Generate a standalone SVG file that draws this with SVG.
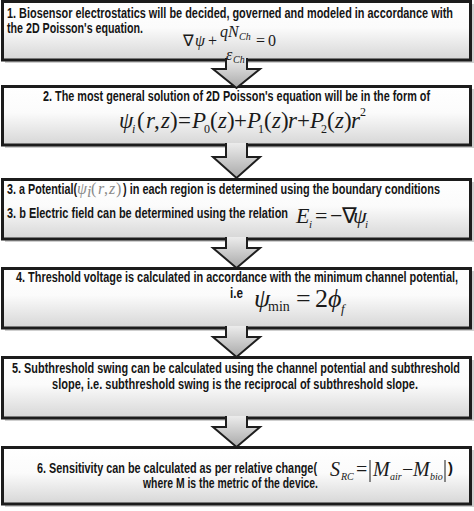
<svg xmlns="http://www.w3.org/2000/svg" width="474" height="511" viewBox="0 0 474 511">
<defs>
<linearGradient id="boxg" x1="0" y1="0" x2="0" y2="1">
<stop offset="0" stop-color="#ffffff"/>
<stop offset="0.45" stop-color="#fbfbfb"/>
<stop offset="1" stop-color="#d6d6d6"/>
</linearGradient>
<linearGradient id="arrg" x1="0" y1="0" x2="0" y2="1">
<stop offset="0" stop-color="#ececec"/>
<stop offset="1" stop-color="#a9a9a9"/>
</linearGradient>
<style>
.box{fill:url(#boxg);stroke:#1c1c1c;stroke-width:3}
.shadow{fill:#cfcfcf}
.arr{fill:url(#arrg);stroke:#1e1e1e;stroke-width:2;stroke-linejoin:miter}
.t{font-family:"Liberation Sans Narrow","Liberation Sans",Arial,sans-serif;font-weight:bold;font-size:15px;fill:#151515}
.m{font-family:"Liberation Serif","Times New Roman",serif;font-style:italic;fill:#1a1a1a}
.u{font-family:"Liberation Serif","Times New Roman",serif;font-style:normal;fill:#1a1a1a}
.g{font-family:"Liberation Serif","Times New Roman",serif;fill:#8a8a8a;font-size:16px}
</style>
</defs>
<rect width="474" height="511" fill="#ffffff"/>

<g id="node1">
<rect class="shadow" x="5" y="4" width="469" height="59"/>
<rect class="box" x="2.5" y="1.5" width="468" height="58.5"/>
<text class="t" x="7" y="18" textLength="446" lengthAdjust="spacingAndGlyphs">1. Biosensor electrostatics will be decided, governed and modeled in accordance with</text>
<text class="t" x="7" y="33" textLength="136" lengthAdjust="spacingAndGlyphs">the 2D Poisson's equation.</text>
<text class="u" x="183" y="46" font-size="16">∇</text>
<text class="m" x="195" y="46" font-size="16">ψ</text>
<text class="u" x="208" y="46" font-size="16">+</text>
<text class="m" x="220" y="37" font-size="16">qN</text>
<text class="m" x="239" y="40" font-size="10">Ch</text>
<text class="u" x="256" y="46" font-size="16">=</text>
<text class="u" x="268" y="46" font-size="16">0</text>
</g>

<g id="node2">
<rect class="shadow" x="5" y="89" width="469" height="59"/>
<rect class="box" x="2.5" y="86.5" width="468" height="58.5"/>
<text class="t" x="43" y="101" textLength="387" lengthAdjust="spacingAndGlyphs">2. The most general solution of 2D Poisson's equation will be in the form of</text>
<text class="m" x="119" y="128" font-size="23">ψ</text>
<text class="m" x="132" y="133" font-size="12">i</text>
<text class="u" x="137" y="128" font-size="23">(</text>
<text class="m" x="146" y="128" font-size="23">r</text>
<text class="u" x="154" y="128" font-size="23">,</text>
<text class="m" x="161" y="128" font-size="23">z</text>
<text class="u" x="170" y="128" font-size="23">)</text>
<text class="u" x="178" y="128" font-size="23">=</text>
<text class="m" x="192" y="128" font-size="23">P</text>
<text class="u" x="204" y="133" font-size="12">0</text>
<text class="u" x="210" y="128" font-size="23">(</text>
<text class="m" x="218" y="128" font-size="23">z</text>
<text class="u" x="227" y="128" font-size="23">)</text>
<text class="u" x="234" y="128" font-size="23">+</text>
<text class="m" x="247" y="128" font-size="23">P</text>
<text class="u" x="258" y="133" font-size="12">1</text>
<text class="u" x="264" y="128" font-size="23">(</text>
<text class="m" x="272" y="128" font-size="23">z</text>
<text class="u" x="281" y="128" font-size="23">)</text>
<text class="m" x="288" y="128" font-size="23">r</text>
<text class="u" x="297" y="128" font-size="23">+</text>
<text class="m" x="310" y="128" font-size="23">P</text>
<text class="u" x="321" y="133" font-size="12">2</text>
<text class="u" x="327" y="128" font-size="23">(</text>
<text class="m" x="335" y="128" font-size="23">z</text>
<text class="u" x="344" y="128" font-size="23">)</text>
<text class="m" x="351" y="128" font-size="23">r</text>
<text class="u" x="360" y="116" font-size="12">2</text>
</g>

<g id="node3">
<rect class="shadow" x="5" y="182" width="469" height="60"/>
<rect class="box" x="2.5" y="179.5" width="468" height="59.5"/>
<text class="t" x="7" y="194" textLength="70" lengthAdjust="spacingAndGlyphs">3. a Potential(</text>
<text class="g" x="77" y="194" font-style="italic">ψ</text>
<text class="g" x="87" y="197" font-size="9" font-style="italic">i</text>
<text class="g" x="91" y="194">(</text>
<text class="g" x="98" y="194" font-style="italic">r</text>
<text class="g" x="104" y="194">,</text>
<text class="g" x="109" y="194" font-style="italic">z</text>
<text class="g" x="116" y="194">)</text>
<text class="t" x="123" y="194" textLength="317" lengthAdjust="spacingAndGlyphs">) in each region is determined using the boundary conditions</text>
<text class="t" x="7" y="218" textLength="281" lengthAdjust="spacingAndGlyphs">3. b Electric field can be determined using the relation</text>
<text class="m" x="296" y="223" font-size="22">E</text>
<text class="m" x="309" y="228" font-size="11">i</text>
<text class="u" x="315" y="223" font-size="22">=</text>
<text class="u" x="330" y="223" font-size="22">−∇</text>
<text class="m" x="353" y="223" font-size="22">ψ</text>
<text class="m" x="365" y="228" font-size="11">i</text>
</g>

<g id="node4">
<rect class="shadow" x="5" y="271" width="469" height="60"/>
<rect class="box" x="2.5" y="268.5" width="468" height="59.5"/>
<text class="t" x="16" y="282" textLength="442" lengthAdjust="spacingAndGlyphs">4. Threshold voltage is calculated in accordance with the minimum channel potential,</text>
<text class="t" x="230" y="298" textLength="13" lengthAdjust="spacingAndGlyphs">i.e</text>
<text class="m" x="254" y="307" font-size="26">ψ</text>
<text class="u" x="268" y="311" font-size="14">min</text>
<text class="u" x="296" y="307" font-size="26">=</text>
<text class="u" x="315" y="307" font-size="26">2</text>
<text class="m" x="328" y="307" font-size="26">ϕ</text>
<text class="m" x="341" y="313" font-size="13">f</text>
</g>

<g id="node5">
<rect class="shadow" x="5" y="360" width="469" height="61"/>
<rect class="box" x="2.5" y="357.5" width="468" height="60.5"/>
<text class="t" x="12" y="373" textLength="448" lengthAdjust="spacingAndGlyphs">5.  Subthreshold swing can be calculated using the channel potential and subthreshold</text>
<text class="t" x="52" y="389" textLength="366" lengthAdjust="spacingAndGlyphs">slope, i.e. subthreshold swing is the reciprocal of subthreshold slope.</text>
</g>

<g id="node6">
<rect class="shadow" x="5" y="450" width="469" height="57"/>
<rect class="box" x="2.5" y="447.5" width="468" height="56.5"/>
<text class="t" x="37" y="473" textLength="280" lengthAdjust="spacingAndGlyphs">6. Sensitivity can be calculated as per relative change(</text>
<text class="t" x="143" y="488" textLength="175" lengthAdjust="spacingAndGlyphs">where M is the metric of the device.</text>
<text class="m" x="330" y="476" font-size="20">S</text>
<text class="m" x="341" y="480" font-size="10">RC</text>
<text class="u" x="356" y="476" font-size="20">=</text>
<line x1="370" y1="460" x2="370" y2="482" stroke="#1a1a1a" stroke-width="1"/>
<text class="m" x="373" y="476" font-size="20">M</text>
<text class="m" x="390" y="480" font-size="10">air</text>
<text class="u" x="402" y="476" font-size="20">−</text>
<text class="m" x="413" y="476" font-size="20">M</text>
<text class="m" x="430" y="480" font-size="10">bio</text>
<line x1="445" y1="460" x2="445" y2="482" stroke="#1a1a1a" stroke-width="1"/>
<text class="t" x="448" y="473">)</text>
</g>

<g id="connectors">
<path class="arr" d="M226,58 L226,69 L213,69 L236.5,88 L260,69 L247,69 L247,58"/>
<path class="arr" d="M226,143 L226,157 L213,157 L236.5,178 L260,157 L247,157 L247,143"/>
<path class="arr" d="M226,237 L226,248 L213,248 L236.5,268 L260,248 L247,248 L247,237"/>
<path class="arr" d="M226,326 L226,337 L213,337 L236.5,357 L260,337 L247,337 L247,326"/>
<path class="arr" d="M226,416 L226,427 L213,427 L236.5,447 L260,427 L247,427 L247,416"/>
</g>

<g id="node1-denominator">
<text class="m" x="226" y="60" font-size="16">ε</text>
<text class="m" x="233" y="63" font-size="10">Ch</text>
</g>
</svg>
